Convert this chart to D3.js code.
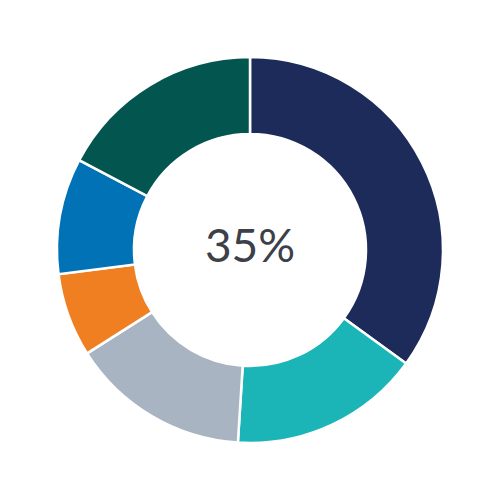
<!DOCTYPE html>
<html><head><meta charset="utf-8">
<script src="https://cdn.jsdelivr.net/npm/d3@7"></script>
<style>body{margin:0;background:#fff}</style>
</head><body>
<svg id="c" width="500" height="500"></svg>
<script>
const categories = ["A","B","C","D","E","F"];
const values = [35, 16, 15, 7, 9.7, 17.3];
const colors = ["#1c2b5a","#1bb5b8","#a9b4c2","#f07f22","#0072b5","#03564f"];
const centerLabel = "35%";

const svg = d3.select("#c");
const g = svg.append("g").attr("transform","translate(250,250)");
const pie = d3.pie().sort(null).value(d=>d.v);
const arc = d3.arc().innerRadius(116).outerRadius(193);
const data = categories.map((c,i)=>({c, v: values[i], col: colors[i]}));
g.selectAll("path").data(pie(data)).join("path")
  .attr("d", arc).attr("fill", d=>d.data.col)
  .attr("stroke","#fff").attr("stroke-width",2.5);
g.append("text").attr("text-anchor","middle").attr("dy","0.35em").attr("y",-4)
  .attr("font-family","Lato, 'Open Sans', sans-serif").attr("font-weight",400)
  .attr("font-size",46).attr("fill","#3d4048").text(centerLabel);
</script>
</body></html>
